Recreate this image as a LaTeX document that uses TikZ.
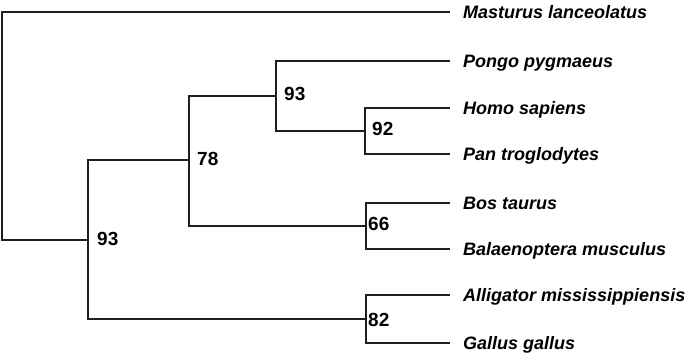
\documentclass[tikz,border=0pt]{standalone}
\usepackage{fontspec}
\setmainfont{Liberation Sans}
\usetikzlibrary{calc}

\begin{document}
\begin{tikzpicture}[x=1pt, y=-1pt,
        branch/.style={draw=black!88, line width=2.1pt, line cap=rect},
        taxon/.style={anchor=west, inner xsep=14pt, inner ysep=0pt, text height=13pt, text depth=0pt,
                      font=\fontsize{18}{18}\selectfont\bfseries\itshape},
        support/.style={anchor=west, inner sep=0pt, text height=13.5pt, text depth=0pt,
                        font=\fontsize{19}{19}\selectfont\bfseries}
      ]
        \useasboundingbox (0,0) rectangle (685,355);

        % internal nodes
        \coordinate (root) at (2,125);
        \coordinate (n93a) at (88,240);
        \coordinate (n78)  at (189,160);
        \coordinate (n93b) at (276,96);
        \coordinate (n92)  at (365,131);
        \coordinate (n66)  at (366,226);
        \coordinate (n82)  at (366,319);

        % leaves
        \node[taxon] (mast) at (449,12)  {Masturus lanceolatus};
        \node[taxon] (pong) at (449,61)  {Pongo pygmaeus};
        \node[taxon] (homo) at (449,108) {Homo sapiens};
        \node[taxon] (pan)  at (449,154) {Pan troglodytes};
        \node[taxon] (bos)  at (449,203) {Bos taurus};
        \node[taxon] (bala) at (449,249) {Balaenoptera musculus};
        \node[taxon] (alli) at (449,295) {Alligator mississippiensis};
        \node[taxon] (gall) at (449,343) {Gallus gallus};

        % bootstrap values
        \node[support] (b93a) at (97,239)  {93};
        \node[support] (b78)  at (197,159) {78};
        \node[support] (b93b) at (284,94)  {93};
        \node[support] (b92)  at (372,129) {92};
        \node[support] (b66)  at (368,224) {66};
        \node[support] (b82)  at (368,320) {82};

        \draw[branch] (root) |- (mast);
        \draw[branch] (root) |- (n93a);
        \draw[branch] (n93a) |- (n78);
        \draw[branch] (n93a) |- (n82);
        \draw[branch] (n78)  |- (n93b);
        \draw[branch] (n78)  |- (n66);
        \draw[branch] (n93b) |- (pong);
        \draw[branch] (n93b) |- (n92);
        \draw[branch] (n92)  |- (homo);
        \draw[branch] (n92)  |- (pan);
        \draw[branch] (n66)  |- (bos);
        \draw[branch] (n66)  |- (bala);
        \draw[branch] (n82)  |- (alli);
        \draw[branch] (n82)  |- (gall);
      \end{tikzpicture}
\end{document}
